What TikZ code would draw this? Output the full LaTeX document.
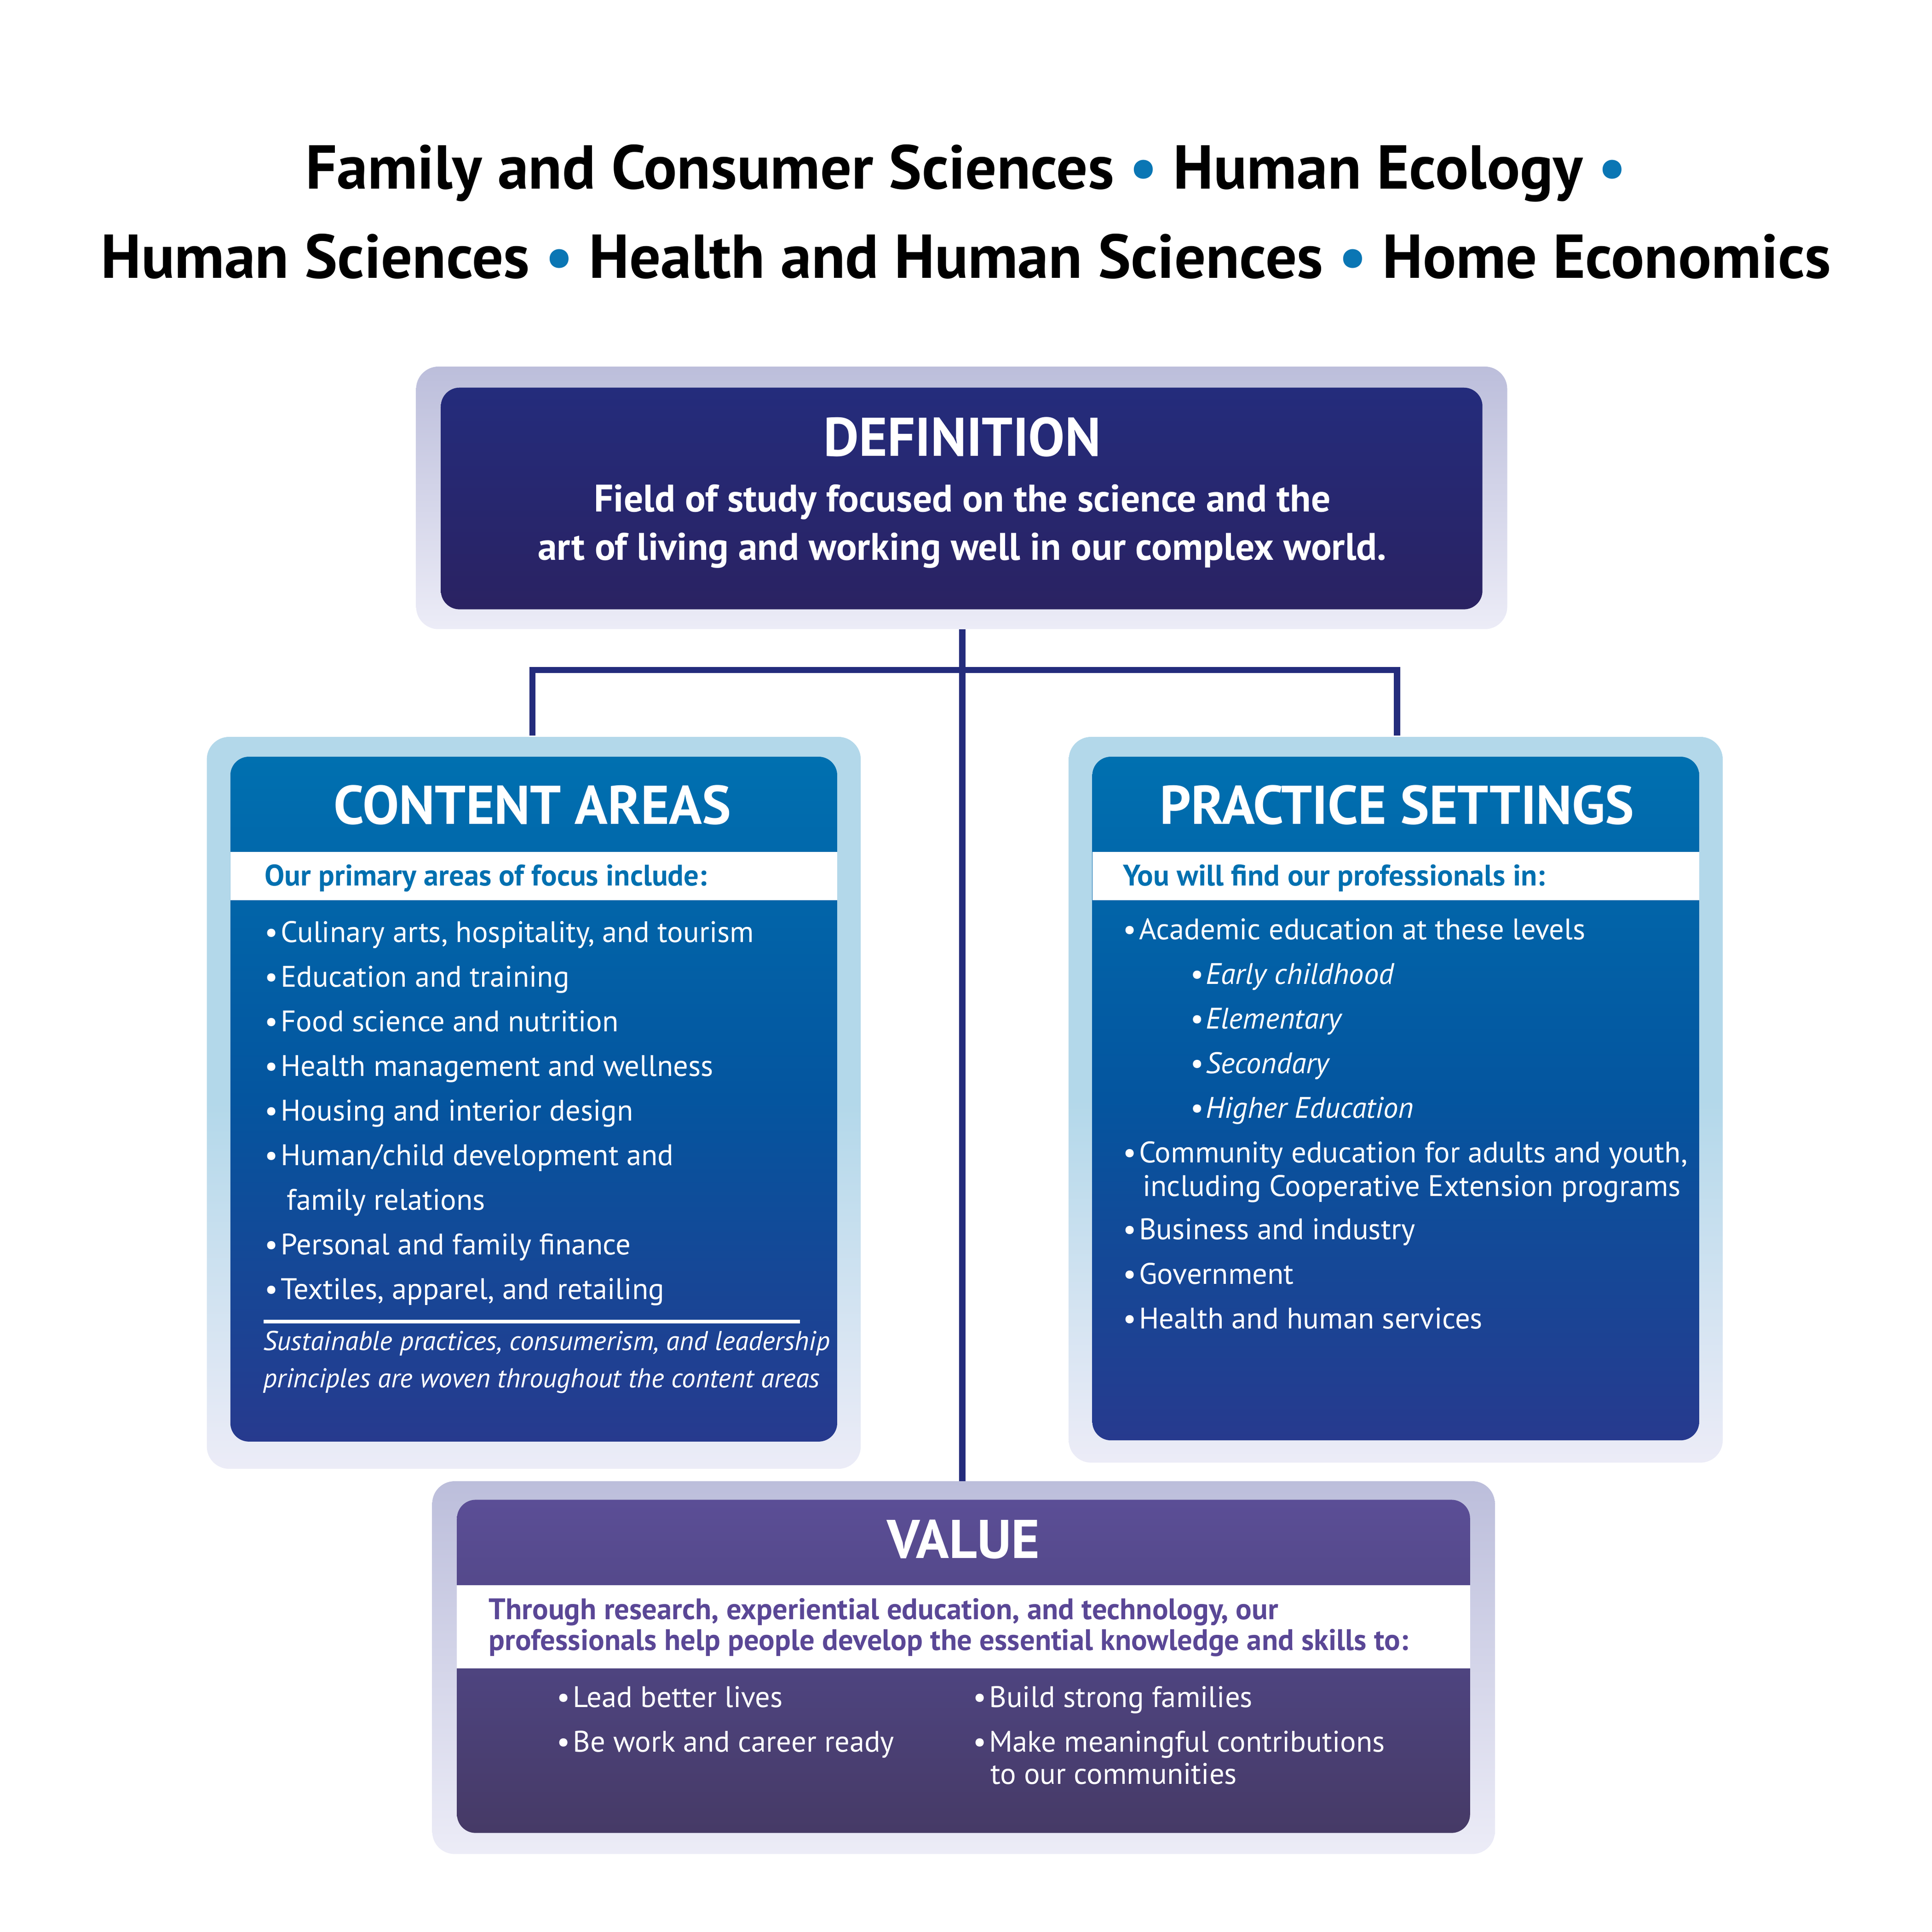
\documentclass[tikz,border=0pt]{standalone}
\usepackage{fontspec}
\setmainfont{PT Sans}
\definecolor{navy}{HTML}{242C7C}
\definecolor{navyb}{HTML}{2A2262}
\definecolor{tblue}{HTML}{0A76B4}
\definecolor{cblue}{HTML}{0070B0}
\definecolor{cblue2}{HTML}{04559F}
\definecolor{cblue3}{HTML}{273A8E}
\definecolor{lblue}{HTML}{B3D8EA}
\definecolor{lpale}{HTML}{ECECF7}
\definecolor{lgray}{HTML}{BCBEDB}
\definecolor{purp}{HTML}{5B4E96}
\definecolor{purp2}{HTML}{4E4480}
\definecolor{purpb}{HTML}{463A66}
\definecolor{purpt}{HTML}{5A4796}
\tikzset{
 outerbox/.style={rounded corners=0.18cm},
 hdr/.style={text=white,font=\bfseries\fontsize{0.44cm}{0.5cm}\selectfont},
 body/.style={text=white,font=\bfseries\fontsize{0.31cm}{0.39cm}\selectfont,align=center},
 lst/.style={text=white,font=\fontsize{0.24cm}{0.36cm}\selectfont,align=left,anchor=north west,inner sep=0},
 sub/.style={font=\bfseries\fontsize{0.24cm}{0.25cm}\selectfont,anchor=west,inner sep=0},
 conn/.style={draw=navy,line width=0.5mm},
}
\newcommand{\bul}{\makebox[0.13cm][l]{•}}
\begin{document}
\begin{tikzpicture}[x=0.01cm,y=-0.01cm]
\useasboundingbox (0,0) rectangle (1560,1560);
% title
\node[font=\bfseries\fontsize{0.5cm}{0.6cm}\selectfont] (t1) at (780,140) {Family and Consumer Sciences \textcolor{tblue}{•} Human Ecology \textcolor{tblue}{•}};
\node[font=\bfseries\fontsize{0.5cm}{0.6cm}\selectfont] (t2) at (780,207) {Human Sciences \textcolor{tblue}{•} Health and Human Sciences \textcolor{tblue}{•} Home Economics};
% connectors
\coordinate (top) at (777,508);
\coordinate (bot) at (777,1196);
\coordinate (hl) at (430,541);
\coordinate (hr) at (1128,541);
\coordinate (cl) at (430,594);
\coordinate (cr) at (1128,594);
\draw[conn] (top) -- (bot);
\draw[conn] (cl) -- (hl) -- (hr) -- (cr);
% definition
\shade[outerbox,top color=lgray,bottom color=lpale] (336,296) rectangle (1217,508);
\shade[rounded corners=0.15cm,top color=navy,bottom color=navyb] (356,313) rectangle (1197,492);
\node[hdr] (dh) at (777,353) {DEFINITION};
\node[body] (db) at (777,425) {Field of study focused on the science and the\\art of living and working well in our complex world.};
% content areas
\shade[outerbox,top color=lblue,bottom color=lpale,middle color=lblue] (167,595) rectangle (695,1186);
\shade[rounded corners=0.15cm,top color=cblue,bottom color=cblue3,middle color=cblue2] (186,611) rectangle (676,1164);
\fill[white] (186,688) rectangle (676,727);
\node[hdr] (ch) at (430,650) {CONTENT AREAS};
\node[sub,text=cblue] (cs) at (213,709) {Our primary areas of focus include:};
\node[lst] (cl1) at (213,743) {\bul Culinary arts, hospitality, and tourism\\\bul Education and training\\\bul Food science and nutrition\\\bul Health management and wellness\\\bul Housing and interior design\\\bul Human/child development and\\\hspace{0.18cm}family relations\\\bul Personal and family finance\\\bul Textiles, apparel, and retailing};
\draw[white,line width=0.3mm] (213,1067) -- (646,1067);
\node[lst,font=\itshape\fontsize{0.22cm}{0.3cm}\selectfont] (cit) at (212,1074) {Sustainable practices, consumerism, and leadership\\principles are woven throughout the content areas};
% practice settings
\shade[outerbox,top color=lblue,bottom color=lpale,middle color=lblue] (863,595) rectangle (1391,1181);
\shade[rounded corners=0.15cm,top color=cblue,bottom color=cblue3,middle color=cblue2] (882,611) rectangle (1372,1163);
\fill[white] (882,688) rectangle (1372,727);
\node[hdr] (ph) at (1128,650) {PRACTICE SETTINGS};
\node[sub,text=cblue] (ps) at (906,709) {You will find our professionals in:};
\node[lst] (pl1) at (906,741) {\bul Academic education at these levels};
\node[lst,font=\itshape\fontsize{0.24cm}{0.36cm}\selectfont] (pl2) at (960,777) {\bul Early childhood\\\bul Elementary\\\bul Secondary\\\bul Higher Education};
\node[lst,font=\fontsize{0.24cm}{0.27cm}\selectfont] (pl3) at (906,921) {\bul Community education for adults and youth,\\\hspace{0.16cm}including Cooperative Extension programs};
\node[lst] (pl4) at (906,983) {\bul Business and industry\\\bul Government\\\bul Health and human services};
% value
\shade[outerbox,top color=lgray,bottom color=lpale] (349,1196) rectangle (1207,1497);
\shade[rounded corners=0.15cm,top color=purp,bottom color=purpb,middle color=purp2] (369,1211) rectangle (1187,1480);
\fill[white] (369,1280) rectangle (1187,1347);
\node[hdr] (vh) at (778,1243) {VALUE};
\node[sub,text=purpt,align=left] (vs) at (394,1314) {Through research, experiential education, and technology, our\\professionals help people develop the essential knowledge and skills to:};
\node[lst] (vl1) at (449,1361) {\bul Lead better lives\\\bul Be work and career ready};
\node[lst] (vl2) at (785,1361) {\bul Build strong families\\\bul Make meaningful contributions};
\node[lst] (vl3) at (799,1423) {to our communities};
\end{tikzpicture}
\end{document}
